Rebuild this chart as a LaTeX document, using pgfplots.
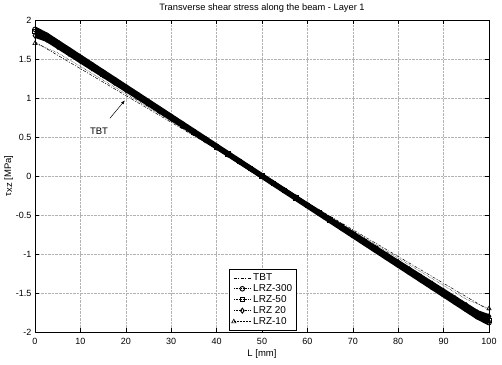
\documentclass[border=0pt]{standalone}
\usepackage{pgfplots}
\pgfplotsset{compat=1.18}
\usepackage{pgfplotstable}
\usetikzlibrary{arrows.meta}
\usepackage{fontspec}
\setmainfont{Liberation Sans}
\pgfplotstableread{
x r300 r50 r20
0 1.880 1.850 1.800
2.5 1.805 1.778 1.751
5 1.710 1.684 1.659
7.5 1.615 1.591 1.567
10 1.520 1.497 1.474
12.5 1.425 1.404 1.382
15 1.330 1.310 1.290
17.5 1.235 1.216 1.198
20 1.140 1.123 1.106
22.5 1.045 1.029 1.014
25 0.950 0.936 0.922
27.5 0.855 0.842 0.829
30 0.760 0.749 0.737
32.5 0.665 0.655 0.645
35 0.570 0.561 0.553
37.5 0.475 0.468 0.461
40 0.380 0.374 0.369
42.5 0.285 0.281 0.276
45 0.190 0.187 0.184
47.5 0.095 0.094 0.092
50 0 0 0
52.5 -0.095 -0.094 -0.092
55 -0.190 -0.187 -0.184
57.5 -0.285 -0.281 -0.276
60 -0.380 -0.374 -0.369
62.5 -0.475 -0.468 -0.461
65 -0.570 -0.561 -0.553
67.5 -0.665 -0.655 -0.645
70 -0.760 -0.749 -0.737
72.5 -0.855 -0.842 -0.829
75 -0.950 -0.936 -0.922
77.5 -1.045 -1.029 -1.014
80 -1.140 -1.123 -1.106
82.5 -1.235 -1.216 -1.198
85 -1.330 -1.310 -1.290
87.5 -1.425 -1.404 -1.382
90 -1.520 -1.497 -1.474
92.5 -1.615 -1.591 -1.567
95 -1.710 -1.684 -1.659
97.5 -1.805 -1.778 -1.751
100 -1.880 -1.850 -1.800
}\lrz
\begin{document}
\begin{tikzpicture}
\useasboundingbox (-35bp,-33bp) rectangle (467bp,332bp);
\begin{axis}[
  scale only axis,
  width=454bp, height=312bp,
  xmin=0, xmax=100, ymin=-2, ymax=2,
  xtick={0,10,...,100},
  ytick={-2,-1.5,...,2},
  yticklabels={-2,-1.5,-1,-0.5,0,0.5,1,1.5,2},
  tick align=inside,
  major tick length=4bp,
  xtick pos=both, ytick pos=both,
  grid=major,
  major grid style={densely dotted, gray!60, line width=0.4pt},
  axis line style={line width=0.6pt},
  tick style={black, line width=0.6pt},
  /pgf/number format/assume math mode=true,
  ticklabel style={font=\fontsize{9bp}{10bp}\selectfont},
  xticklabel style={yshift=-3bp},
  title={Transverse shear stress along the beam - Layer 1},
  title style={font=\fontsize{9.3bp}{10bp}\selectfont, yshift=-2bp},
  xlabel={L [mm]},
  xlabel style={font=\fontsize{9.5bp}{10bp}\selectfont, yshift=2bp},
  ylabel={τ\raisebox{-1bp}{xz} [MPa]},
  ylabel style={font=\fontsize{9.5bp}{10bp}\selectfont, yshift=-4bp},
  legend style={at={(0.502,0.006)}, anchor=south, font=\fontsize{10bp}{12bp}\selectfont,
    draw=black, line width=0.5pt, row sep=-1.5bp, inner sep=2bp},
  legend cell align=left,
]
\addplot[black, line width=0.5pt, dash pattern=on 3bp off 1.5bp on 1bp off 1.5bp] coordinates {(0,1.72) (100,-1.72)};
\addlegendentry{TBT}
\addplot[black, line width=5.5bp, forget plot] table[x=x,y=r300] {\lrz};
\addplot[black, line width=4.5bp, forget plot] table[x=x,y=r50] {\lrz};
\addplot[black, line width=4.5bp, forget plot] table[x=x,y=r20] {\lrz};
\addplot[black, densely dotted, line width=0.8pt, mark=o, mark size=2.3bp, mark options={solid, line width=0.9pt}] table[x=x,y=r300] {\lrz};
\addlegendentry{LRZ-300}
\addplot[black, densely dotted, line width=0.8pt, mark=square, mark size=2.2bp, mark options={solid, line width=0.9pt}] table[x=x,y=r50] {\lrz};
\addlegendentry{LRZ-50}
\addplot[black, densely dotted, line width=0.8pt, mark=diamond, mark size=2.5bp, mark options={solid, line width=0.9pt}] table[x=x,y=r20] {\lrz};
\addlegendentry{LRZ 20}
\addplot[black, densely dotted, line width=0.5pt, mark=triangle, mark size=2.5bp, mark indices={1,5}, mark options={solid, line width=0.6pt}] coordinates {(0,1.70) (5,1.58) (50,0) (95,-1.58) (100,-1.70)};
\addlegendentry{LRZ-10}
\draw[-{Latex[length=4bp,width=3bp]}, line width=0.5pt] (axis cs:16.5,0.74) -- (axis cs:19.8,0.97);
\node[font=\fontsize{9.5bp}{10bp}\selectfont] at (axis cs:14.1,0.58) {TBT};
\end{axis}
\end{tikzpicture}
\end{document}
